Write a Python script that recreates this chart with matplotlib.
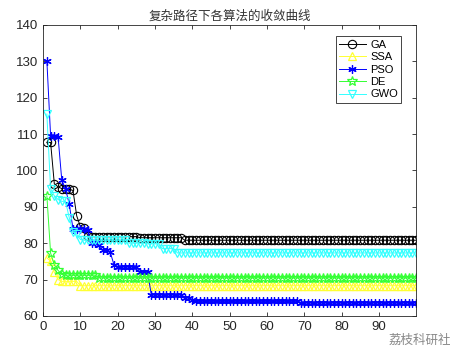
import numpy as np
import matplotlib.pyplot as plt

plt.rcParams['font.family'] = ['Liberation Sans', 'Noto Sans CJK SC', 'DejaVu Sans']

iters = np.arange(1, 101)

# best fitness per iteration
ga = [107.7, 107.7, 96.3, 95.5, 95.0, 95.0, 94.8, 94.5, 87.5, 84.5,
      84.3, 82.0] + [81.8] * 13 + [81.5] * 12 + [80.8] * 63
ssa = [76.0, 75.0, 72.0, 70.0, 69.5, 69.5, 69.5, 69.5, 69.5] + [68.3] * 91
pso = [130.2, 109.5, 109.5, 109.3, 97.3, 95.0, 90.7, 84.0, 84.0, 84.0,
       84.0, 83.5, 80.0, 80.0, 79.5, 78.0, 78.0, 77.5, 74.0, 73.5,
       73.5, 73.5, 73.5, 73.5, 73.5, 72.0, 72.0, 72.0] + [65.8] * 9 + \
      [65.0, 65.0, 64.5] + [64.0] * 28 + [63.6] * 32
de = [93.0, 77.3, 74.0, 72.5, 71.5] + [71.2] * 9 + [70.5] * 86
gwo = [115.5, 95.0, 93.0, 92.0, 91.5, 91.5, 87.0, 83.0, 82.5, 81.0] + \
      [80.8] * 12 + [80.0] * 5 + [79.8] * 4 + [78.5] * 4 + [77.3] * 65

fig, ax = plt.subplots(figsize=(4.74, 3.51), dpi=100)
fig.subplots_adjust(left=0.091, right=0.878, top=0.929, bottom=0.10)

ms = 6
ax.plot(iters, ga, '-o', color='k', lw=0.7, ms=ms, mfc='none', mew=0.8, label='GA')
ax.plot(iters, ssa, '-^', color=(1, 1, 0.2), lw=0.7, ms=ms, mfc='none', mew=0.9, label='SSA')
ax.plot(iters, pso, '-', marker=(6, 2, 0), color=(0, 0, 1), lw=0.7, ms=ms, mew=0.9, label='PSO')
ax.plot(iters, de, '-*', color=(0.2, 1, 0.2), lw=0.7, ms=ms + 1, mfc='none', mew=0.9, label='DE')
ax.plot(iters, gwo, '-v', color=(0.2, 1, 1), lw=0.7, ms=ms, mfc='none', mew=0.9, label='GWO')

ax.set_xlim(0, 100)
ax.set_ylim(60, 140)
ax.set_xticks(np.arange(0, 100, 10))
ax.set_yticks(np.arange(60, 141, 10))
ax.tick_params(direction='in', top=True, right=True, labelsize=9.5,
               colors='#262626', length=3, width=0.6)
for s in ax.spines.values():
    s.set_color('#262626')
    s.set_linewidth(0.6)

ax.set_title('复杂路径下各算法的收敛曲线', fontsize=9, color='#333333', pad=4,
             family=['Noto Sans CJK SC', 'DejaVu Sans'])

leg = ax.legend(loc='upper right', fontsize=8, fancybox=False, framealpha=1,
                edgecolor='#262626', handlelength=2.4, borderpad=0.3,
                labelspacing=0.22, handletextpad=0.4, bbox_to_anchor=(0.975, 0.98))
leg.get_frame().set_linewidth(0.6)

fig.text(0.82, 0.02, '荔枝科研社', fontsize=9, color='#888888',
         family=['Noto Sans CJK SC', 'DejaVu Sans'])

fig.savefig('out.png')
